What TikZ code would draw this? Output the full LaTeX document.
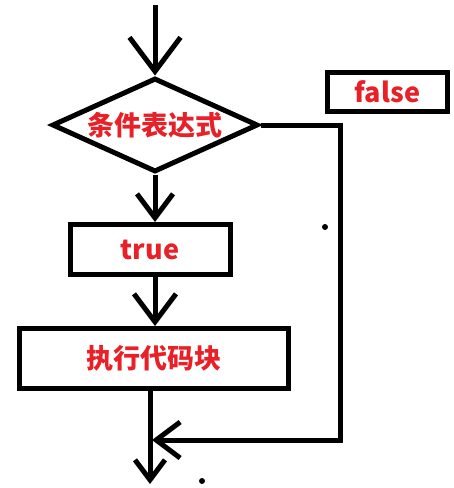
\documentclass[tikz,border=0pt]{standalone}
\usepackage{fontspec}
\usepackage{tikz}
\usetikzlibrary{shapes.geometric,arrows.meta}
\newfontfamily\cjk{Noto Sans CJK SC}
\definecolor{labelred}{RGB}{232,32,40}

\begin{document}
\begin{tikzpicture}[x=1pt, y=-1pt, line width=5pt,
    every node/.style={draw, line width=5pt, inner sep=0pt,
      font=\cjk\bfseries\fontsize{27}{30}\selectfont, text=labelred},
    test/.style={diamond, aspect=2.19, minimum width=206pt, minimum height=94pt},
    box/.style={rectangle, minimum width=#1},
    barb/.style={-{Straight Barb[length=#1, width=1.5*#1]}}]
      \useasboundingbox (0, 0) rectangle (454, 488);

      \coordinate (in) at (155, 5);
      \coordinate (turn) at (340, 125);
      \coordinate (merge) at (152, 440);
      \coordinate (out) at (150, 484);

      \node[test] (C) at (155, 125) {条件表达式};
      \node[box=160pt, minimum height=50pt] (T) at (150, 249.5) {true};
      \node[box=269pt, minimum height=60pt] (X) at (154, 358.5) {执行代码块};
      \node[box=120pt, minimum height=39pt] (F) at (387.5, 92) {false};

      \draw[barb=34pt] (in) -- (C.north);
      \draw[barb=24pt] (C.south) -- (C.south |- T.north);
      \draw[barb=28pt] (T.south -| C.south) -- (X.north -| C.south);
      \draw[barb=20pt] (X.south -| out) -- (out);
      \draw[barb=24pt] (C.east) -- (turn) -- (turn |- merge) -- (merge);

      % stray specks
      \fill (325, 227) circle (3pt);
      \fill (202, 481) circle (3pt);
    \end{tikzpicture}
\end{document}
